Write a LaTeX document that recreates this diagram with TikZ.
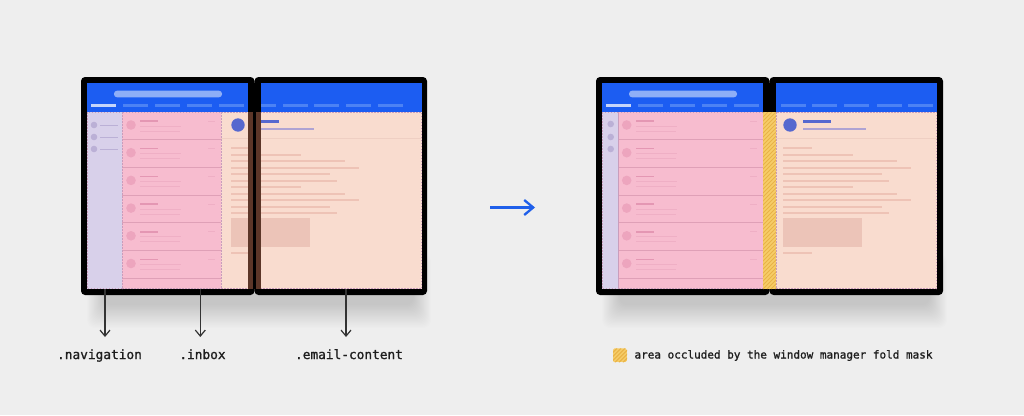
\documentclass[tikz,border=0pt]{standalone}
\usepackage{fontspec}
\setmonofont{DejaVu Sans Mono}
\usetikzlibrary{arrows.meta}
\definecolor{bg}{HTML}{EEEEEE}
\definecolor{hdr}{HTML}{1C5DF2}
\definecolor{searchc}{HTML}{8EAEF7}
\definecolor{tabact}{HTML}{C6D5FA}
\definecolor{tabc}{HTML}{4C82F4}
\definecolor{navc}{HTML}{D8D0EA}
\definecolor{navdot}{HTML}{BBB0D6}
\definecolor{inboxc}{HTML}{F7BCCF}
\definecolor{inboxdot}{HTML}{EDA5BE}
\definecolor{inboxtitle}{HTML}{E497B3}
\definecolor{inboxsub}{HTML}{EFAFC5}
\definecolor{inboxsep}{HTML}{DFA0B7}
\definecolor{emailc}{HTML}{F9DCCF}
\definecolor{emailline}{HTML}{EEC3B6}
\definecolor{emailimg}{HTML}{ECC4B8}
\definecolor{emailsep}{HTML}{EFCFC3}
\definecolor{avatarc}{HTML}{5668CF}
\definecolor{subtc}{HTML}{AFA3D3}
\definecolor{hingebrown}{HTML}{5C3628}
\definecolor{yellowc}{HTML}{F6CD68}
\definecolor{yellowd}{HTML}{E9B246}
\definecolor{dashc}{HTML}{C99DBC}
\definecolor{arrowblue}{HTML}{1F5FEA}
\definecolor{txtc}{HTML}{1E1E1E}
\definecolor{pointc}{HTML}{333333}

\tikzset{
  framebox/.style={fill=black, rounded corners=4pt},
  regionborder/.style={draw=dashc, line width=0.6pt, dash pattern=on 1.5pt off 1.5pt},
  tabline/.style={line width=3pt},
  pointer/.style={draw=pointc, line width=1.2pt, -{Straight Barb[length=6pt,width=10pt,line width=1.2pt]}},
  bluearrow/.style={draw=arrowblue, line width=2.3pt, -{Straight Barb[length=9pt,width=15pt,line width=2.3pt]}},
  lbl/.style={font=\ttfamily\fontsize{12.8pt}{14pt}\selectfont\addfontfeature{FakeBold=1.2}, text=txtc, inner sep=0pt, anchor=base},
  legendtxt/.style={font=\ttfamily\fontsize{11pt}{13pt}\selectfont\addfontfeature{FakeBold=1.2}, text=txtc, inner sep=0pt, anchor=base west},
}

\newcommand{\mkEmail}[1]{%
  \fill[avatarc] (#1+7,125) circle[radius=6.7pt];
  \draw[avatarc, line width=2.2pt] (#1+20,121.5) -- (#1+48,121.5);
  \draw[subtc, line width=2pt] (#1+20,129) -- (#1+83,129);
  \foreach \yy/\ll in {148/29,154.5/70,161/114,167.5/128,174/99,180.5/106,187/70,193.5/114,200/128,206.5/99,213/106}
    {\draw[emailline, line width=2pt] (#1,\yy) -- (#1+\ll,\yy);}
  \fill[emailimg] (#1,218) rectangle (#1+79,247);
  \draw[emailline, line width=2pt] (#1,253) -- (#1+29,253);
}
% #1 x0, #2 x1, #3 circle x, #4 text x, #5 date x
\newcommand{\mkInbox}[5]{%
  \foreach \tt in {112,139.7,167.4,195.1,222.8,250.5}{%
    \fill[inboxdot] (#3,\tt+13) circle[radius=4.8pt];
    \draw[inboxtitle, line width=1.5pt] (#4,\tt+9) -- (#4+18,\tt+9);
    \draw[inboxsub, line width=1pt] (#4,\tt+14) -- (#4+41,\tt+14);
    \draw[inboxsub, line width=1pt] (#4,\tt+19) -- (#4+40,\tt+19);
    \draw[inboxsub, line width=1pt] (#5,\tt+9) -- (#5+7,\tt+9);
    \draw[inboxsep, line width=0.7pt] (#1,\tt+27.7) -- (#2,\tt+27.7);
  }%
}
% #1 x0, #2 x1 of shadow
\newcommand{\mkShadow}[2]{%
  \foreach \i in {1,...,20}{%
    \fill[black, opacity=0.009, rounded corners=8pt] (#1+24-0.9*\i,278-1.2*\i) rectangle (#2-14+0.9*\i,304+1.2*\i);
  }%
}

\begin{document}
\begin{tikzpicture}[x=1pt,y=-1pt]
\useasboundingbox (0,0) rectangle (1024,415);
\fill[bg] (0,0) rectangle (1024,415);

% shadows
\mkShadow{81}{427}
\mkShadow{596}{943}

% ================= LEFT DEVICE =================
\fill[framebox] (81,77) rectangle (254.5,295);
\fill[framebox] (254.5,77) rectangle (427,295);
\begin{scope}
  \clip (87,83) rectangle (422,289);
  \fill[hdr] (87,83) rectangle (422,112);
  \fill[searchc, rounded corners=3pt] (114,90.7) rectangle (222,97.3);
  \draw[tabact, tabline] (91,105) -- (116,105);
  \foreach \a in {123,155,187,219,251,283,314,346,378}
    {\draw[tabc, tabline] (\a,105) -- (\a+24.5,105);}
  \fill[navc] (87,112) rectangle (122,289);
  \fill[inboxc] (122,112) rectangle (221,289);
  \fill[emailc] (221,112) rectangle (422,289);
  \foreach \yy in {125,137,149}{
    \fill[navdot] (94,\yy) circle[radius=3.3pt];
    \draw[navdot, line width=1pt] (100,\yy) -- (118,\yy);
  }
  \mkInbox{122}{221}{131}{140}{208}
  \draw[emailsep, line width=0.7pt] (221,138) -- (422,138);
  \mkEmail{231}
  \draw[regionborder] (87.3,112) rectangle (122,288.7);
  \draw[regionborder] (122,112) rectangle (221,288.7);
  \draw[regionborder] (221,112) rectangle (421.7,288.7);
\end{scope}
% hinge
\fill[black] (248,83) rectangle (261,112);
\fill[hingebrown] (248,112) rectangle (261,289);
\fill[black] (253.3,112) rectangle (255.7,289);

% ================= RIGHT DEVICE =================
\fill[framebox] (596,77) rectangle (769.5,295);
\fill[framebox] (769.5,77) rectangle (943,295);
\begin{scope}
  \clip (602,83) rectangle (937,289);
  \fill[hdr] (602,83) rectangle (937,112);
  \fill[searchc, rounded corners=3pt] (629,90.7) rectangle (737,97.3);
  \draw[tabact, tabline] (606,105) -- (631,105);
  \foreach \a in {638,670,702,734,781,812,844,877,908}
    {\draw[tabc, tabline] (\a,105) -- (\a+24.5,105);}
  \fill[navc] (602,112) rectangle (618,289);
  \fill[inboxc] (618,112) rectangle (763,289);
  \fill[emailc] (776,112) rectangle (937,289);
  \foreach \yy in {124,137,149}{
    \fill[navdot] (610.7,\yy) circle[radius=3.3pt];
  }
  \mkInbox{618}{763}{626.7}{636}{750}
  \draw[emailsep, line width=0.7pt] (776,138) -- (937,138);
  \mkEmail{783}
  \draw[regionborder] (602.3,112) rectangle (618,288.7);
  \draw[regionborder] (618,112) rectangle (763,288.7);
  \draw[regionborder] (776,112) rectangle (936.7,288.7);
\end{scope}
% hinge (occluded area)
\fill[black] (763,83) rectangle (776,112);
\begin{scope}
  \clip (763,112) rectangle (776,289);
  \fill[yellowc] (763,112) rectangle (776,289);
  \foreach \k in {0,...,50}
    {\draw[yellowd, line width=1pt] (583+\k*4,289) -- (760+\k*4,112);}
\end{scope}

% ================= ARROWS AND LABELS =================
\coordinate (navtop) at (105,289);
\coordinate (navend) at (105,337);
\coordinate (inboxtop) at (200.3,289);
\coordinate (inboxend) at (200.3,337);
\coordinate (emailtop) at (346,289);
\coordinate (emailend) at (346,337);
\draw[pointer] (navtop) -- (navend);
\draw[pointer] (inboxtop) -- (inboxend);
\draw[pointer] (emailtop) -- (emailend);
\node[lbl] (navlabel) at (99.5,359) {.navigation};
\node[lbl] (inboxlabel) at (202.5,359) {.inbox};
\node[lbl] (emaillabel) at (349,359) {.email-content};

\coordinate (midstart) at (490,207.5);
\coordinate (midend) at (535,207.5);
\draw[bluearrow] (midstart) -- (midend);

% legend
\begin{scope}
  \clip[rounded corners=1.5pt] (613,348.3) rectangle (627,362.3);
  \fill[yellowc] (613,348.3) rectangle (627,362.3);
  \foreach \k in {0,...,8}
    {\draw[yellowd, line width=1pt] (599+\k*4,362.3) -- (613+\k*4,348.3);}
\end{scope}
\node[legendtxt] (legendlabel) at (634.3,358.5) {area occluded by the window manager fold mask};
\end{tikzpicture}
\end{document}
